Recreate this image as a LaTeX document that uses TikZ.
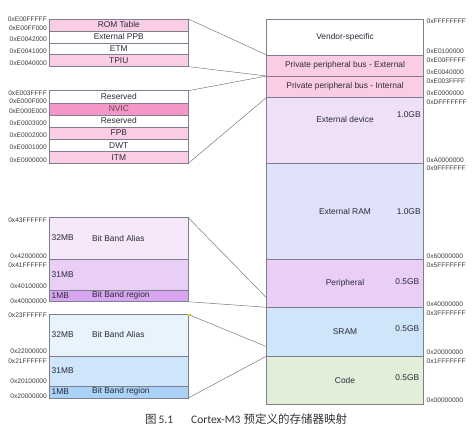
\documentclass[tikz,border=0pt]{standalone}
\usepackage{fontspec}
\setmainfont{Liberation Sans}
\newfontfamily\cjk{Noto Sans CJK SC}
\newfontfamily\capfont{Carlito}
\definecolor{boxline}{HTML}{7E7E90}
\definecolor{connc}{HTML}{7A7A7A}
\definecolor{txt}{HTML}{2A2A3A}
\definecolor{addrc}{HTML}{3A3A3A}
\definecolor{pinkL}{HTML}{FBCDE4}
\definecolor{nvicc}{HTML}{F596C8}
\definecolor{extdev}{HTML}{EFE0F8}
\definecolor{extram}{HTML}{DFE2F8}
\definecolor{periph}{HTML}{E9CFF6}
\definecolor{sramc}{HTML}{CFE5FA}
\definecolor{codec}{HTML}{E3EED8}
\definecolor{palias}{HTML}{F6E7FB}
\definecolor{pone}{HTML}{D8A6F0}
\definecolor{salias}{HTML}{E8F3FC}
\definecolor{sone}{HTML}{A9D2F6}
\begin{document}
\begin{tikzpicture}[x=1pt,y=-1pt,
  box/.style={draw=boxline, line width=0.6pt, inner sep=0pt, outer sep=0pt, anchor=north west,
    font=\fontsize{8.4}{9}\selectfont, text=txt},
  lbox/.style={box, minimum width=139pt},
  rbox/.style={box, minimum width=156.6pt},
  addr/.style={font=\fontsize{6.6}{7}\selectfont, text=addrc, inner sep=0pt},
  laddr/.style={addr, anchor=east},
  raddr/.style={addr, anchor=west},
  intxt/.style={font=\fontsize{8.4}{9}\selectfont, text=txt, inner sep=0pt},
  bbtxt/.style={intxt, anchor=west},
  conn/.style={draw=connc, line width=0.5pt}]
\useasboundingbox (0,0) rectangle (474,434);

% ---------- right column ----------
\node[rbox, minimum height=36pt] (vendor) at (266.7,19) {Vendor-specific};
\node[rbox, fill=pinkL, minimum height=21pt] (ppbE) at (266.7,55) {Private peripheral bus - External};
\node[rbox, fill=pinkL, minimum height=21.3pt] (ppbI) at (266.7,76) {Private peripheral bus - Internal};
\node[rbox, fill=extdev, minimum height=66pt] (extdev) at (266.7,97.3) {};
\node[rbox, fill=extram, minimum height=96pt] (extram) at (266.7,163.3) {};
\node[rbox, fill=periph, minimum height=48pt] (periph) at (266.7,259.3) {};
\node[rbox, fill=sramc, minimum height=48.7pt] (sram) at (266.7,307.3) {};
\node[rbox, fill=codec, minimum height=48pt] (code) at (266.7,356) {};

\node[intxt] (tdev) at (345,119) {External device};
\node[intxt, anchor=east] (gdev) at (420.8,114.3) {1.0GB};
\node[intxt] (tram) at (345,211.3) {External RAM};
\node[intxt, anchor=east] (gram) at (420.8,212) {1.0GB};
\node[intxt] (tper) at (345,283.3) {Peripheral};
\node[intxt, anchor=east] (gper) at (419.5,282) {0.5GB};
\node[intxt] (tsram) at (345,331.7) {SRAM};
\node[intxt, anchor=east] (gsram) at (419.5,329) {0.5GB};
\node[intxt] (tcode) at (345,380) {Code};
\node[intxt, anchor=east] (gcode) at (419.5,377.7) {0.5GB};

% right addresses
\node[raddr] (r1) at (426.5,21) {0xFFFFFFFF};
\node[raddr] (r2) at (426.5,51.7) {0xE0100000};
\node[raddr] (r3) at (426.5,60.3) {0xE00FFFFF};
\node[raddr] (r4) at (426.5,72) {0xE0040000};
\node[raddr] (r5) at (426.5,81.3) {0xE003FFFF};
\node[raddr] (r6) at (426.5,93.3) {0xE0000000};
\node[raddr] (r7) at (426.5,102.3) {0xDFFFFFFF};
\node[raddr] (r8) at (426.5,160) {0xA0000000};
\node[raddr] (r9) at (426.5,168.7) {0x9FFFFFFF};
\node[raddr] (r10) at (426.5,256) {0x60000000};
\node[raddr] (r11) at (426.5,265.3) {0x5FFFFFFF};
\node[raddr] (r12) at (426.5,304) {0x40000000};
\node[raddr] (r13) at (426.5,313.3) {0x3FFFFFFF};
\node[raddr] (r14) at (426.5,352.3) {0x20000000};
\node[raddr] (r15) at (426.5,361.7) {0x1FFFFFFF};
\node[raddr] (r16) at (426.5,400.7) {0x00000000};

% ---------- left group 1 ----------
\node[lbox, fill=pinkL, minimum height=11.9pt] (rom) at (49.3,19) {ROM Table};
\node[lbox, minimum height=11.9pt] (eppb) at (49.3,30.9) {External PPB};
\node[lbox, minimum height=11.9pt] (etm) at (49.3,42.8) {ETM};
\node[lbox, fill=pinkL, minimum height=11.9pt] (tpiu) at (49.3,54.7) {TPIU};
\node[laddr] (a1) at (47,19.7) {0xE00FFFFF};
\node[laddr] (a2) at (47,28.3) {0xE00FF000};
\node[laddr] (a3) at (47,39.3) {0xE0042000};
\node[laddr] (a4) at (47,51.7) {0xE0041000};
\node[laddr] (a5) at (47,63.3) {0xE0040000};

% ---------- left group 2 ----------
\node[lbox, minimum height=12.1pt] (res1) at (49.3,90.7) {Reserved};
\node[lbox, fill=nvicc, minimum height=12.1pt, text=black!70!magenta] (nvic) at (49.3,102.8) {NVIC};
\node[lbox, minimum height=12.1pt] (res2) at (49.3,114.9) {Reserved};
\node[lbox, fill=pinkL, minimum height=12.1pt] (fpb) at (49.3,127) {FPB};
\node[lbox, minimum height=12.1pt] (dwt) at (49.3,139.1) {DWT};
\node[lbox, fill=pinkL, minimum height=12.1pt] (itm) at (49.3,151.2) {ITM};
\node[laddr] (b1) at (47,93.3) {0xE003FFFF};
\node[laddr] (b2) at (47,101.3) {0xE000F000};
\node[laddr] (b3) at (47,111) {0xE000E000};
\node[laddr] (b4) at (47,123) {0xE0003000};
\node[laddr] (b5) at (47,135.3) {0xE0002000};
\node[laddr] (b6) at (47,147) {0xE0001000};
\node[laddr] (b7) at (47,160.3) {0xE0000000};

% ---------- peripheral bit band ----------
\node[lbox, fill=palias, minimum height=41.6pt] (pal) at (49.3,217.7) {};
\node[lbox, fill=periph, minimum height=30.7pt] (p31) at (49.3,259.3) {};
\node[lbox, fill=pone, minimum height=11.7pt] (p1) at (49.3,290) {};
\node[bbtxt] (pt1) at (51.5,238) {32MB};
\node[bbtxt] (pt2) at (92,238) {Bit Band Alias};
\node[bbtxt] (pt3) at (51.5,274.7) {31MB};
\node[bbtxt] (pt4) at (51.5,295.5) {1MB};
\node[bbtxt] (pt5) at (92,295.5) {Bit Band region};
\node[laddr] (c1) at (47,220.3) {0x43FFFFFF};
\node[laddr] (c2) at (47,256) {0x42000000};
\node[laddr] (c3) at (47,265.3) {0x41FFFFFF};
\node[laddr] (c4) at (47,286.7) {0x40100000};
\node[laddr] (c5) at (47,301.3) {0x40000000};

% ---------- SRAM bit band ----------
\node[lbox, fill=salias, minimum height=41.7pt] (sal) at (49.3,314.3) {};
\node[lbox, fill=sramc, minimum height=30pt] (s31) at (49.3,356) {};
\node[lbox, fill=sone, minimum height=12pt] (s1) at (49.3,386) {};
\node[bbtxt] (st1) at (51.5,334.7) {32MB};
\node[bbtxt] (st2) at (92,334.7) {Bit Band Alias};
\node[bbtxt] (st3) at (51.5,371) {31MB};
\node[bbtxt] (st4) at (51.5,391.8) {1MB};
\node[bbtxt] (st5) at (92,391.8) {Bit Band region};
\node[laddr] (d1) at (47,315.3) {0x23FFFFFF};
\node[laddr] (d2) at (47,351.7) {0x22000000};
\node[laddr] (d3) at (47,361.7) {0x21FFFFFF};
\node[laddr] (d4) at (47,381.7) {0x20100000};
\node[laddr] (d5) at (47,396.7) {0x20000000};
\node[fill=yellow!85!olive, inner sep=0pt, minimum size=2.6pt] (ydot) at (189.5,315) {};

% ---------- connectors ----------
\coordinate (pend) at (266.7,298);
\coordinate (send) at (266.7,346.7);
\draw[conn] (rom.north east) -- (vendor.south west);
\draw[conn] (tpiu.south east) -- (ppbE.south west);
\draw[conn] (res1.north east) -- (ppbI.north west);
\draw[conn] (itm.south east) -- (ppbI.south west);
\draw[conn] (pal.north east) -- (pend);
\draw[conn] (p1.south east) -- (periph.south west);
\draw[conn] (ydot.center) -- (send);
\draw[conn] (s1.south east) -- (code.north west);

% ---------- caption ----------
\node[anchor=west, inner sep=0pt, text=black!80, font=\fontsize{11.5}{12}\selectfont] (cap1) at (145,419.3) {{\cjk 图}\,{\capfont 5.1}};
\node[anchor=west, inner sep=0pt, text=black!80, font=\fontsize{11.5}{12}\selectfont] (cap2) at (191,419.3) {{\capfont Cortex-M3} {\cjk 预定义的存储器映射}};
\end{tikzpicture}
\end{document}
